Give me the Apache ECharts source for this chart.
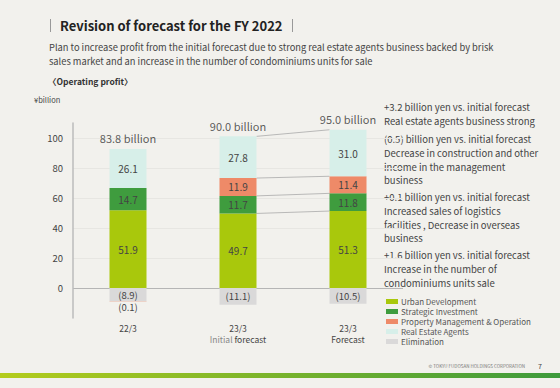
<!DOCTYPE html>
<html><head><meta charset="utf-8">
<script src="https://cdn.jsdelivr.net/npm/echarts@6/dist/echarts.min.js"></script>
<style>html,body{margin:0;padding:0;background:#f2f1ed}#c{width:560px;height:388px}</style>
</head><body><div id="c"></div>
<script>
const categories = ['22/3', '23/3\n{a|Initial} forecast', '23/3\nForecast'];
const urbanDevelopment = [51.9, 49.7, 51.3];
const strategicInvestment = [14.7, 11.7, 11.8];
const propertyManagement = [-0.1, 11.9, 11.4];
const realEstateAgents = [26.1, 27.8, 31.0];
const elimination = [-8.9, -11.1, -10.5];
const totals = [83.8, 90.0, 95.0];
const seriesNames = ['Urban Development', 'Strategic Investment', 'Property Management & Operation', 'Real Estate Agents', 'Elimination'];
const notes = [
  '+3.2 billion yen vs. initial forecast\nReal estate agents business strong',
  '(0.5) billion yen vs. initial forecast\nDecrease in construction and other\nincome in the management\nbusiness',
  '+0.1 billion yen vs. initial forecast\nIncreased sales of logistics\nfacilities , Decrease in overseas\nbusiness',
  '+1.6 billion yen vs. initial forecast\nIncrease in the number of\ncondominiums units sale'
];

const FONT = '"Noto Sans CJK JP", "Noto Sans", sans-serif';
const colors = {
  'Urban Development': '#a9c80c',
  'Strategic Investment': '#3f9c3e',
  'Property Management & Operation': '#ee8a68',
  'Real Estate Agents': '#d7efe9',
  'Elimination': '#dad9d9'
};
const fmt = v => v < 0 ? '(' + (-v).toFixed(1) + ')' : v.toFixed(1);
const posSum = categories.map((_, i) => [urbanDevelopment, strategicInvestment, propertyManagement, realEstateAgents]
  .reduce((s, a) => s + Math.max(0, a[i]), 0));

function levels(i) {
  const a = Math.max(0, urbanDevelopment[i]);
  const b = a + Math.max(0, strategicInvestment[i]);
  const c = b + Math.max(0, propertyManagement[i]);
  const d = c + Math.max(0, realEstateAgents[i]);
  return [a, b, c, d];
}

const barLabel = {show: true, position: 'inside', color: '#444', fontSize: 10, fontFamily: FONT, formatter: p => fmt(p.value)};
function barSeries(name, data, extra) {
  return Object.assign({
    name, type: 'bar', stack: 'op', barWidth: 37,
    itemStyle: {color: colors[name]},
    label: barLabel,
    emphasis: {disabled: true},
    data
  }, extra || {});
}

const chart = echarts.init(document.getElementById('c'), null, {renderer: 'svg'});
chart.setOption({
  backgroundColor: '#f2f1ed',
  animation: false,
  grid: {left: 73, right: 157, top: 123, bottom: 70},
  legend: {
    orient: 'vertical', left: 381, top: 292, itemWidth: 12, itemHeight: 5, itemGap: 1,
    data: seriesNames, icon: 'rect',
    textStyle: {fontSize: 8, lineHeight: 9, color: '#555', fontFamily: FONT, padding: [0, 0, 0, -2]},
    selectedMode: false
  },
  xAxis: {
    type: 'category', data: categories,
    axisLine: {show: false}, axisTick: {show: false},
    axisLabel: {margin: 4, color: '#444', fontSize: 8.5, lineHeight: 11, fontFamily: FONT,
      rich: {a: {color: '#888', fontSize: 8.5, lineHeight: 11, fontFamily: FONT}}}
  },
  yAxis: {
    type: 'value', min: -20, max: 110, interval: 20,
    axisLine: {show: true, lineStyle: {color: '#bbb', width: 1.5}},
    axisTick: {show: false},
    axisLabel: {margin: 10, color: '#444', fontSize: 9.5, fontFamily: FONT,
      formatter: v => (v < 0 || v > 100) ? '' : String(v)},
    splitLine: {show: true, lineStyle: {width: 1,
      color: ['rgba(0,0,0,0)', '#b5b5b5', '#e7e6e2', '#e7e6e2', '#e7e6e2', '#e7e6e2', '#e7e6e2', 'rgba(0,0,0,0)']}}
  },
  series: [
    barSeries('Elimination', elimination, {label: Object.assign({}, barLabel, {fontSize: 9.5})}),
    barSeries('Urban Development', urbanDevelopment),
    barSeries('Strategic Investment', strategicInvestment),
    barSeries('Property Management & Operation', propertyManagement.map(v => v < 0
      ? {value: v, label: {show: true, position: 'bottom', distance: 1, fontSize: 9.5}} : v)),
    barSeries('Real Estate Agents', realEstateAgents),
    {
      type: 'scatter', data: posSum, symbolSize: 0, silent: true,
      label: {show: true, position: 'top', distance: 5, color: '#333', fontSize: 11, fontFamily: FONT,
        formatter: p => totals[p.dataIndex].toFixed(1) + ' billion'}
    },
    {
      type: 'custom', silent: true, data: [[1, 0]], z: 1,
      renderItem: (params, api) => {
        const hw = 18.5;
        const la = levels(1), lb = levels(2);
        return {type: 'group', children: la.map((v, k) => {
          const p0 = api.coord([1, v]), p1 = api.coord([2, lb[k]]);
          return {type: 'line', shape: {x1: p0[0] + hw, y1: p0[1], x2: p1[0] - hw, y2: p1[1]},
            style: {stroke: '#aaa', lineWidth: 0.8}};
        })};
      }
    }
  ],
  graphic: [
    {type: 'rect', shape: {x: 50, y: 19, width: 1, height: 13}, style: {fill: '#999'}},
    {type: 'rect', shape: {x: 292, y: 19, width: 1, height: 13}, style: {fill: '#999'}},
    {type: 'text', x: 60, y: 25, style: {text: 'Revision of forecast for the FY 2022', fill: '#222',
      font: 'bold 13px ' + FONT, textVerticalAlign: 'middle'}},
    {type: 'text', x: 49, y: 40, style: {text: 'Plan to increase profit from the initial forecast due to strong real estate agents business backed by brisk\nsales market and an increase in the number of condominiums units for sale',
      fill: '#444', font: '9.3px ' + FONT, lineHeight: 14}},
    {type: 'text', x: 48, y: 77, style: {text: '〈Operating profit〉', fill: '#333', font: 'bold 8.5px ' + FONT}},
    {type: 'text', x: 34, y: 96, style: {text: '¥billion', fill: '#444', font: '7.5px ' + FONT}},
    {type: 'text', x: 384, y: 100, style: {text: notes[0], fill: '#444', font: '9.5px ' + FONT, lineHeight: 14}},
    {type: 'text', x: 384, y: 132, style: {text: notes[1], fill: '#444', font: '9.5px ' + FONT, lineHeight: 13.8}},
    {type: 'text', x: 384, y: 190, style: {text: notes[2], fill: '#444', font: '9.5px ' + FONT, lineHeight: 13.8}},
    {type: 'text', x: 384, y: 248, style: {text: notes[3], fill: '#444', font: '9.5px ' + FONT, lineHeight: 13.8}},
    {type: 'text', x: 525, y: 366, style: {text: '© TOKYU FUDOSAN HOLDINGS CORPORATION', fill: '#777',
      font: '4.5px ' + FONT, textAlign: 'right', textVerticalAlign: 'middle'}},
    {type: 'text', x: 538, y: 366, style: {text: '7', fill: '#444', font: '7px ' + FONT, textVerticalAlign: 'middle'}},
    {type: 'rect', shape: {x: 0, y: 373, width: 560, height: 5}, style: {
      fill: new echarts.graphic.LinearGradient(0, 0, 1, 0, [{offset: 0, color: '#b4cc1c'}, {offset: 1, color: '#3d9a3c'}])}}
  ]
});
</script></body></html>
